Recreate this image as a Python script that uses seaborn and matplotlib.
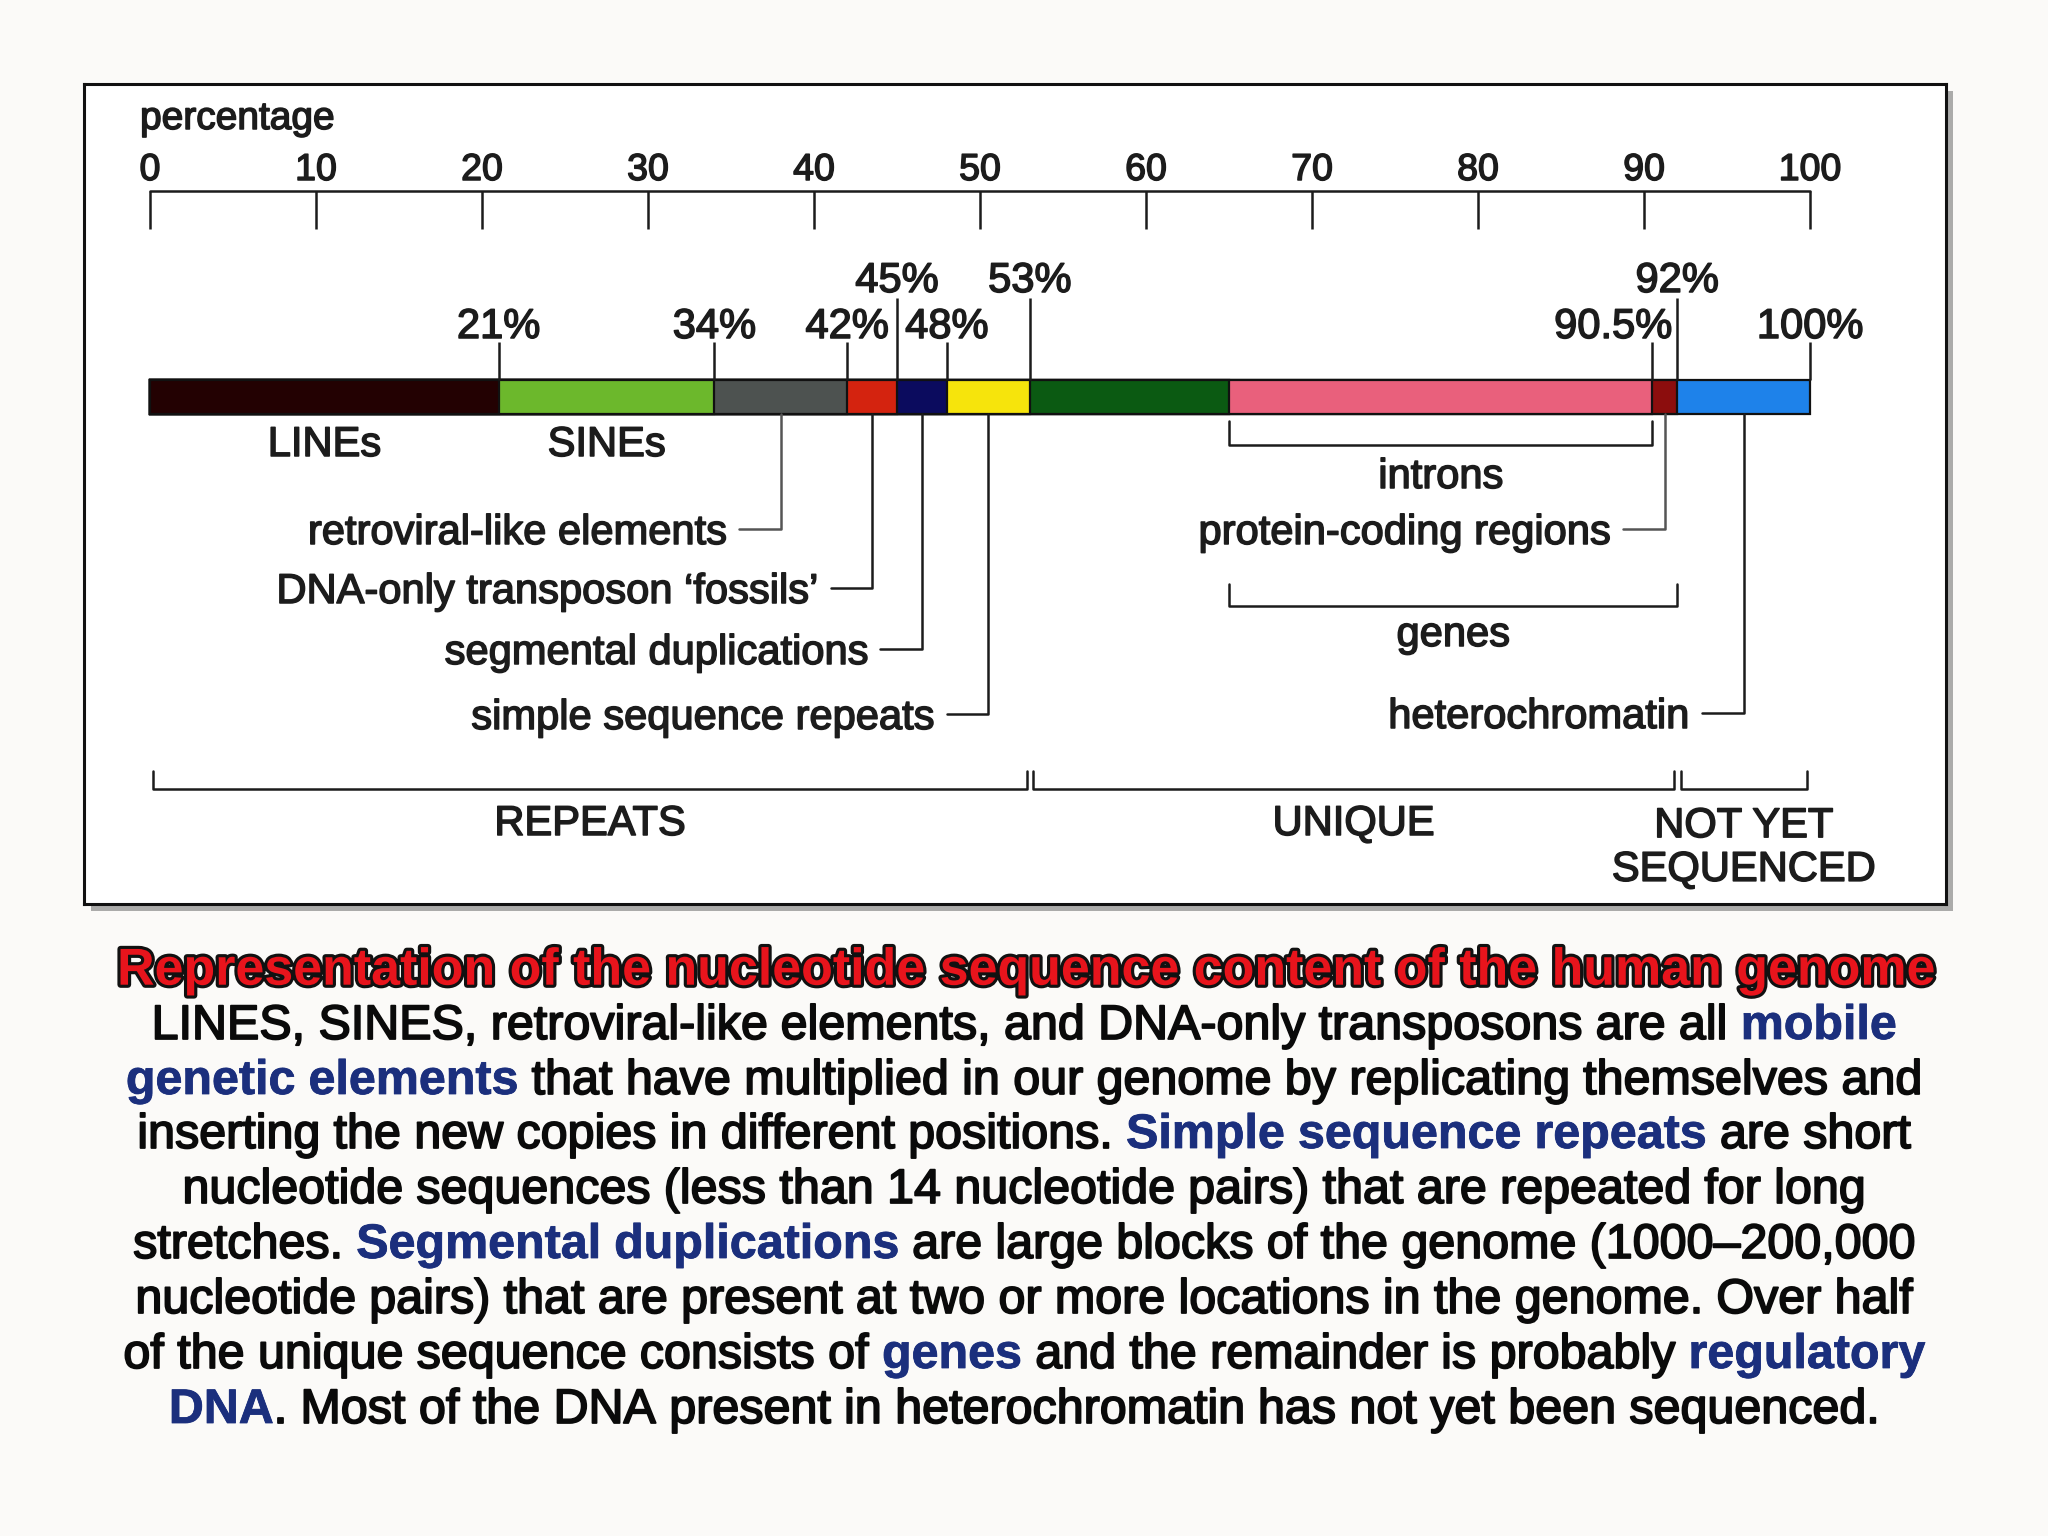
import re
import numpy as np
import pandas as pd
import matplotlib
matplotlib.use("Agg")
import matplotlib.pyplot as plt
import matplotlib.patheffects as pe
from matplotlib.patches import Rectangle
import seaborn as sns

# ------------------------------------------------------------------ data
segment_names = ["LINEs", "SINEs", "retroviral-like elements",
                 "DNA-only transposon \u2018fossils\u2019", "segmental duplications",
                 "simple sequence repeats", "other unique sequence", "introns",
                 "protein-coding regions", "heterochromatin"]
segment_ends = [21, 34, 42, 45, 48, 53, 65, 90.5, 92, 100]
segment_colors = ["#230102", "#6cb82c", "#4d5250", "#d4230f", "#0b0b5e",
                  "#f6e40c", "#0b5a12", "#e9607c", "#8c0d0d", "#1e82ea"]

pct_marks = [21, 34, 42, 45, 48, 53, 90.5, 92, 100]
pct_labels = ["21%", "34%", "42%", "45%", "48%", "53%", "90.5%", "92%", "100%"]
pct_upper = [False, False, False, True, False, True, False, True, False]

axis_ticks = [0, 10, 20, 30, 40, 50, 60, 70, 80, 90, 100]

group_names = ["REPEATS", "UNIQUE", "NOT YET\nSEQUENCED"]
group_starts = [0, 53, 92]
group_ends = [53, 92, 100]

title_text = "Representation of the nucleotide sequence content of the human genome"
caption_lines = [
    [("LINES, SINES, retroviral-like elements, and DNA-only transposons are all ", "n"), ("mobile", "b")],
    [("genetic elements", "b"), (" that have multiplied in our genome by replicating themselves and", "n")],
    [("inserting the new copies in different positions. ", "n"), ("Simple sequence repeats", "b"), (" are short", "n")],
    [("nucleotide sequences (less than 14 nucleotide pairs) that are repeated for long", "n")],
    [("stretches. ", "n"), ("Segmental duplications", "b"), (" are large blocks of the genome (1000\u2013200,000", "n")],
    [("nucleotide pairs) that are present at two or more locations in the genome. Over half", "n")],
    [("of the unique sequence consists of ", "n"), ("genes", "b"), (" and the remainder is probably ", "n"), ("regulatory", "b")],
    [("DNA", "b"), (". Most of the DNA present in heterochromatin has not yet been sequenced.", "n")],
]

# ------------------------------------------------------------------ style
sns.set_style("white")
plt.rcParams["font.family"] = ["Liberation Sans", "DejaVu Sans"]

W, H = 2048, 1536
fig = plt.figure(figsize=(W / 100, H / 100), dpi=100, facecolor="#fbfaf8")

BL, BT, BR, BB = 84, 84, 1946, 904
ax = fig.add_axes([BL / W, 1 - BB / H, (BR - BL) / W, (BB - BT) / H])
ax.set_facecolor("white")
shadow = Rectangle(((BL + 7) / W, 1 - (BB + 7) / H), (BR - BL) / W, (BB - BT) / H,
                   transform=fig.transFigure, facecolor="#8a8a8a", edgecolor="none",
                   alpha=0.7, zorder=-5)
fig.patches.append(shadow)

INK = "#1c1c1c"
LW = 1.8
FS = 30
TXT_PE = [pe.withStroke(linewidth=1.1, foreground=INK)]


def label(x, y, s, **kw):
    opts = dict(ha="center", va="center", fontsize=FS, color=INK)
    opts.update(kw)
    t = ax.text(x, y, s, **opts)
    t.set_path_effects(TXT_PE)
    return t


# ------------------------------------------------------------------ stacked bar (overlaid cumulative bars)
df = pd.DataFrame({"segment": segment_names, "end": segment_ends, "row": "genome"})
draw_order = df.sort_values("end", ascending=False)["segment"].tolist()
sns.barplot(data=df, x="end", y="row", hue="segment", hue_order=draw_order,
            palette=dict(zip(segment_names, segment_colors)), dodge=False,
            width=34, edgecolor="#111111", linewidth=1.6, saturation=1,
            errorbar=None, legend=False, ax=ax)

ax.set_xlim(-3.976, 108.19)
ax.set_ylim(507, -313)
ax.set_xticks([])
ax.set_yticks([])
ax.set_xlabel("")
ax.set_ylabel("")
for s in ax.spines.values():
    s.set_visible(True)
    s.set_color("#111111")
    s.set_linewidth(2.2)

# ------------------------------------------------------------------ top percentage axis
ax.plot([0, 100], [-206, -206], color=INK, lw=LW)
ax.vlines(axis_ticks, -206, -168, color=INK, lw=LW)
for t in axis_ticks:
    label(t, -227, str(t), fontsize=27)
label(-0.6, -278, "percentage", ha="left", fontsize=28)

# ------------------------------------------------------------------ percentage marks
for v, lab, up in zip(pct_marks, pct_labels, pct_upper):
    ytop = -99 if up else -55
    ax.vlines(v, ytop, -17, color=INK, lw=LW)
    ylab = -116 if up else -70
    if lab == "90.5%":
        label(92 - 0.3, ylab, lab, ha="right")
    else:
        label(v, ylab, lab)

# ------------------------------------------------------------------ segment labels
starts = [0] + segment_ends[:-1]
mid = {n: (s + e) / 2 for n, s, e in zip(segment_names, starts, segment_ends)}
span = {n: (s, e) for n, s, e in zip(segment_names, starts, segment_ends)}

for name in ["LINEs", "SINEs"]:
    label(mid[name], 48, name)

leader_rows = {"retroviral-like elements": 132,
               "DNA-only transposon \u2018fossils\u2019": 191,
               "segmental duplications": 252,
               "simple sequence repeats": 317,
               "protein-coding regions": 132,
               "heterochromatin": 316}
for name, yrow in leader_rows.items():
    xv = mid[name]
    col = "#555555" if name in ("retroviral-like elements", "protein-coding regions") else INK
    ax.plot([xv, xv, xv - 2.5], [17, yrow, yrow], color=col, lw=LW)
    label(xv - 2.5 - 0.8, yrow + 4, name, ha="right")


def bracket(x0, x1, y0, y1):
    ax.plot([x0, x0, x1, x1], [y0, y1, y1, y0], color=INK, lw=LW)


# introns bracket
i0, i1 = span["introns"]
bracket(i0, i1, 24, 48)
label((i0 + i1) / 2, 80, "introns")
# genes bracket (introns + protein-coding regions)
g0, g1 = span["introns"][0], span["protein-coding regions"][1]
bracket(g0, g1, 187, 209)
label((g0 + g1) / 2, 238, "genes")

# bottom group brackets
for name, s, e in zip(group_names, group_starts, group_ends):
    bracket(s + 0.2, e - 0.2, 374, 392)
    ylab = 427 if "\n" not in name else 451
    label((s + e) / 2, ylab, name, linespacing=1.12, multialignment="center")

# ------------------------------------------------------------------ caption
renderer = fig.canvas.get_renderer()
STY = {"n": dict(color="#0a0a0a", fontweight="normal", family=["Liberation Sans", "DejaVu Sans"]),
       "b": dict(color="#1b2f7d", fontweight="bold", family=["Liberation Sans", "DejaVu Sans"])}


def measure(s, size, **kw):
    t = fig.text(0, 0, s, fontsize=size, **kw)
    w = t.get_window_extent(renderer).width
    t.remove()
    return w


def tokens(pieces):
    out = []
    for text, st in pieces:
        for m in re.finditer(r"\s+|\S+", text):
            g = m.group()
            out.append((" " if g.isspace() else g, st))
    return out


def space_w(size, st):
    kw = {k: v for k, v in STY[st].items() if k != "color"}
    return measure("n n", size, **kw) - measure("nn", size, **kw)


def line_width(pieces, size):
    tot = 0
    for s, st in tokens(pieces):
        if s == " ":
            tot += space_w(size, st)
        else:
            kw = {k: v for k, v in STY[st].items() if k != "color"}
            tot += measure(s, size, **kw)
    return tot


def draw_line(pieces, size, center_px):
    total = line_width(pieces, size)
    x = W / 2 - total / 2
    em = size * 100 / 72
    base = 1 - (center_px + 0.33 * em) / H
    for s, st in tokens(pieces):
        if s == " ":
            x += space_w(size, st)
            continue
        t = fig.text(x / W, base, s, fontsize=size, ha="left", va="baseline", **STY[st])
        lw = 1.3 if st == "n" else 0.6
        t.set_path_effects([pe.withStroke(linewidth=lw, foreground=STY[st]["color"])])
        x += t.get_window_extent(renderer).width


body_size = 30 * 1744 / line_width(caption_lines[0], 30)
line_centers = [1023, 1078, 1132, 1187, 1242, 1297, 1352, 1407]
for pieces, cy in zip(caption_lines, line_centers):
    draw_line(pieces, body_size, cy)

tkw = dict(fontweight="bold", family=["Liberation Sans", "DejaVu Sans"])
title_size = 30 * 1819 / measure(title_text, 30, **tkw)
em_t = title_size * 100 / 72
tt = fig.text(0.5, 1 - (966 + 0.36 * em_t) / H, title_text, fontsize=title_size,
              ha="center", va="baseline", color="#e8141c", **tkw)
tt.set_path_effects([pe.Stroke(linewidth=4.5, foreground="#111111"), pe.Normal()])

fig.savefig("out.png", dpi=100, facecolor=fig.get_facecolor())
